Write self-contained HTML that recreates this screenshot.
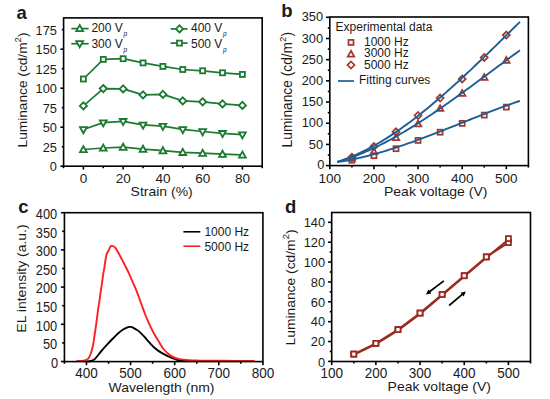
<!DOCTYPE html>
<html><head><meta charset="utf-8"><style>
html,body{margin:0;padding:0;background:#fff;}
svg{display:block;}
text{font-family:"Liberation Sans", sans-serif;fill:#1a1a1a;}
</style></head><body>
<svg width="550" height="399" viewBox="0 0 550 399">
<rect width="550" height="399" fill="#fff"/>
<text x="16.50" y="18.80" font-size="18.5" text-anchor="start" font-weight="bold"  style="">a</text>
<line x1="60.40" y1="166.20" x2="63.60" y2="166.20" stroke="#000" stroke-width="1.6" stroke-linecap="butt"/>
<text x="0" y="0" font-size="13.5" text-anchor="end" transform="translate(56.90 171.03) scale(0.95 1.0)">0</text>
<line x1="61.80" y1="146.70" x2="63.60" y2="146.70" stroke="#000" stroke-width="1.6" stroke-linecap="butt"/>
<text x="0" y="0" font-size="13.5" text-anchor="end" transform="translate(56.90 151.53) scale(0.95 1.0)">25</text>
<line x1="60.40" y1="127.20" x2="63.60" y2="127.20" stroke="#000" stroke-width="1.6" stroke-linecap="butt"/>
<text x="0" y="0" font-size="13.5" text-anchor="end" transform="translate(56.90 132.03) scale(0.95 1.0)">50</text>
<line x1="61.80" y1="107.70" x2="63.60" y2="107.70" stroke="#000" stroke-width="1.6" stroke-linecap="butt"/>
<text x="0" y="0" font-size="13.5" text-anchor="end" transform="translate(56.90 112.53) scale(0.95 1.0)">75</text>
<line x1="60.40" y1="88.20" x2="63.60" y2="88.20" stroke="#000" stroke-width="1.6" stroke-linecap="butt"/>
<text x="0" y="0" font-size="13.5" text-anchor="end" transform="translate(56.90 93.03) scale(0.95 1.0)">100</text>
<line x1="61.80" y1="68.70" x2="63.60" y2="68.70" stroke="#000" stroke-width="1.6" stroke-linecap="butt"/>
<text x="0" y="0" font-size="13.5" text-anchor="end" transform="translate(56.90 73.53) scale(0.95 1.0)">125</text>
<line x1="60.40" y1="49.20" x2="63.60" y2="49.20" stroke="#000" stroke-width="1.6" stroke-linecap="butt"/>
<text x="0" y="0" font-size="13.5" text-anchor="end" transform="translate(56.90 54.03) scale(0.95 1.0)">150</text>
<line x1="61.80" y1="29.70" x2="63.60" y2="29.70" stroke="#000" stroke-width="1.6" stroke-linecap="butt"/>
<text x="0" y="0" font-size="13.5" text-anchor="end" transform="translate(56.90 34.53) scale(0.95 1.0)">175</text>
<line x1="63.53" y1="166.20" x2="63.53" y2="168.20" stroke="#000" stroke-width="1.6" stroke-linecap="butt"/>
<line x1="83.40" y1="166.20" x2="83.40" y2="169.60" stroke="#000" stroke-width="1.6" stroke-linecap="butt"/>
<text x="0" y="0" font-size="13.5" text-anchor="middle" transform="translate(83.40 182.90) scale(1 1.0)">0</text>
<line x1="103.28" y1="166.20" x2="103.28" y2="168.20" stroke="#000" stroke-width="1.6" stroke-linecap="butt"/>
<line x1="123.15" y1="166.20" x2="123.15" y2="169.60" stroke="#000" stroke-width="1.6" stroke-linecap="butt"/>
<text x="0" y="0" font-size="13.5" text-anchor="middle" transform="translate(123.15 182.90) scale(1 1.0)">20</text>
<line x1="143.03" y1="166.20" x2="143.03" y2="168.20" stroke="#000" stroke-width="1.6" stroke-linecap="butt"/>
<line x1="162.90" y1="166.20" x2="162.90" y2="169.60" stroke="#000" stroke-width="1.6" stroke-linecap="butt"/>
<text x="0" y="0" font-size="13.5" text-anchor="middle" transform="translate(162.90 182.90) scale(1 1.0)">40</text>
<line x1="182.78" y1="166.20" x2="182.78" y2="168.20" stroke="#000" stroke-width="1.6" stroke-linecap="butt"/>
<line x1="202.65" y1="166.20" x2="202.65" y2="169.60" stroke="#000" stroke-width="1.6" stroke-linecap="butt"/>
<text x="0" y="0" font-size="13.5" text-anchor="middle" transform="translate(202.65 182.90) scale(1 1.0)">60</text>
<line x1="222.53" y1="166.20" x2="222.53" y2="168.20" stroke="#000" stroke-width="1.6" stroke-linecap="butt"/>
<line x1="242.40" y1="166.20" x2="242.40" y2="169.60" stroke="#000" stroke-width="1.6" stroke-linecap="butt"/>
<text x="0" y="0" font-size="13.5" text-anchor="middle" transform="translate(242.40 182.90) scale(1 1.0)">80</text>
<line x1="262.27" y1="166.20" x2="262.27" y2="168.20" stroke="#000" stroke-width="1.6" stroke-linecap="butt"/>
<rect x="63.60" y="17.90" width="198.60" height="148.30" fill="none" stroke="#000" stroke-width="1.6"/>
<text x="0" y="0" font-size="13.7" text-anchor="middle" transform="translate(26.60 90.00) scale(0.92 1) rotate(-90)">Luminance (cd/m<tspan font-size="0.7em" dy="-0.63em">2</tspan><tspan dy="0.44em">)</tspan></text>
<text x="0" y="0" font-size="13.2" text-anchor="middle" transform="translate(161.70 195.60) scale(1.06 1)">Strain (%)</text>
<polyline points="83.40,149.50 103.28,148.00 123.15,147.10 143.03,149.10 162.90,150.60 182.78,152.30 202.65,153.20 222.53,154.10 242.40,154.90" fill="none" stroke="#1b7a2f" stroke-width="1.7" stroke-linejoin="round" stroke-linecap="butt"/>
<path d="M83.40,146.10 L86.82,152.22 L79.98,152.22 Z" fill="#fff" stroke="#1b7a2f" stroke-width="1.8" stroke-linejoin="miter"/>
<path d="M103.28,144.60 L106.70,150.72 L99.86,150.72 Z" fill="#fff" stroke="#1b7a2f" stroke-width="1.8" stroke-linejoin="miter"/>
<path d="M123.15,143.70 L126.57,149.82 L119.73,149.82 Z" fill="#fff" stroke="#1b7a2f" stroke-width="1.8" stroke-linejoin="miter"/>
<path d="M143.03,145.70 L146.44,151.82 L139.61,151.82 Z" fill="#fff" stroke="#1b7a2f" stroke-width="1.8" stroke-linejoin="miter"/>
<path d="M162.90,147.20 L166.32,153.32 L159.48,153.32 Z" fill="#fff" stroke="#1b7a2f" stroke-width="1.8" stroke-linejoin="miter"/>
<path d="M182.78,148.90 L186.19,155.02 L179.36,155.02 Z" fill="#fff" stroke="#1b7a2f" stroke-width="1.8" stroke-linejoin="miter"/>
<path d="M202.65,149.80 L206.07,155.92 L199.23,155.92 Z" fill="#fff" stroke="#1b7a2f" stroke-width="1.8" stroke-linejoin="miter"/>
<path d="M222.53,150.70 L225.94,156.82 L219.11,156.82 Z" fill="#fff" stroke="#1b7a2f" stroke-width="1.8" stroke-linejoin="miter"/>
<path d="M242.40,151.50 L245.82,157.62 L238.98,157.62 Z" fill="#fff" stroke="#1b7a2f" stroke-width="1.8" stroke-linejoin="miter"/>
<polyline points="83.40,129.50 103.28,122.60 123.15,121.30 143.03,124.90 162.90,126.10 182.78,129.40 202.65,131.50 222.53,133.30 242.40,134.60" fill="none" stroke="#1b7a2f" stroke-width="1.7" stroke-linejoin="round" stroke-linecap="butt"/>
<path d="M83.40,133.30 L86.82,127.18 L79.98,127.18 Z" fill="#fff" stroke="#1b7a2f" stroke-width="1.8" stroke-linejoin="miter"/>
<path d="M103.28,126.40 L106.70,120.28 L99.86,120.28 Z" fill="#fff" stroke="#1b7a2f" stroke-width="1.8" stroke-linejoin="miter"/>
<path d="M123.15,125.10 L126.57,118.98 L119.73,118.98 Z" fill="#fff" stroke="#1b7a2f" stroke-width="1.8" stroke-linejoin="miter"/>
<path d="M143.03,128.70 L146.44,122.58 L139.61,122.58 Z" fill="#fff" stroke="#1b7a2f" stroke-width="1.8" stroke-linejoin="miter"/>
<path d="M162.90,129.90 L166.32,123.78 L159.48,123.78 Z" fill="#fff" stroke="#1b7a2f" stroke-width="1.8" stroke-linejoin="miter"/>
<path d="M182.78,133.20 L186.19,127.08 L179.36,127.08 Z" fill="#fff" stroke="#1b7a2f" stroke-width="1.8" stroke-linejoin="miter"/>
<path d="M202.65,135.30 L206.07,129.18 L199.23,129.18 Z" fill="#fff" stroke="#1b7a2f" stroke-width="1.8" stroke-linejoin="miter"/>
<path d="M222.53,137.10 L225.94,130.98 L219.11,130.98 Z" fill="#fff" stroke="#1b7a2f" stroke-width="1.8" stroke-linejoin="miter"/>
<path d="M242.40,138.40 L245.82,132.28 L238.98,132.28 Z" fill="#fff" stroke="#1b7a2f" stroke-width="1.8" stroke-linejoin="miter"/>
<polyline points="83.40,105.90 103.28,88.60 123.15,88.90 143.03,94.90 162.90,94.40 182.78,100.90 202.65,101.80 222.53,103.90 242.40,105.40" fill="none" stroke="#1b7a2f" stroke-width="1.7" stroke-linejoin="round" stroke-linecap="butt"/>
<path d="M83.40,102.30 L87.00,105.90 L83.40,109.50 L79.80,105.90 Z" fill="#fff" stroke="#1b7a2f" stroke-width="1.8"/>
<path d="M103.28,85.00 L106.88,88.60 L103.28,92.20 L99.68,88.60 Z" fill="#fff" stroke="#1b7a2f" stroke-width="1.8"/>
<path d="M123.15,85.30 L126.75,88.90 L123.15,92.50 L119.55,88.90 Z" fill="#fff" stroke="#1b7a2f" stroke-width="1.8"/>
<path d="M143.03,91.30 L146.62,94.90 L143.03,98.50 L139.43,94.90 Z" fill="#fff" stroke="#1b7a2f" stroke-width="1.8"/>
<path d="M162.90,90.80 L166.50,94.40 L162.90,98.00 L159.30,94.40 Z" fill="#fff" stroke="#1b7a2f" stroke-width="1.8"/>
<path d="M182.78,97.30 L186.38,100.90 L182.78,104.50 L179.18,100.90 Z" fill="#fff" stroke="#1b7a2f" stroke-width="1.8"/>
<path d="M202.65,98.20 L206.25,101.80 L202.65,105.40 L199.05,101.80 Z" fill="#fff" stroke="#1b7a2f" stroke-width="1.8"/>
<path d="M222.53,100.30 L226.12,103.90 L222.53,107.50 L218.93,103.90 Z" fill="#fff" stroke="#1b7a2f" stroke-width="1.8"/>
<path d="M242.40,101.80 L246.00,105.40 L242.40,109.00 L238.80,105.40 Z" fill="#fff" stroke="#1b7a2f" stroke-width="1.8"/>
<polyline points="83.40,79.00 103.28,59.40 123.15,58.70 143.03,62.90 162.90,66.40 182.78,69.50 202.65,70.80 222.53,72.80 242.40,74.40" fill="none" stroke="#1b7a2f" stroke-width="1.7" stroke-linejoin="round" stroke-linecap="butt"/>
<rect x="80.90" y="76.50" width="5.00" height="5.00" fill="#fff" stroke="#1b7a2f" stroke-width="1.8"/>
<rect x="100.78" y="56.90" width="5.00" height="5.00" fill="#fff" stroke="#1b7a2f" stroke-width="1.8"/>
<rect x="120.65" y="56.20" width="5.00" height="5.00" fill="#fff" stroke="#1b7a2f" stroke-width="1.8"/>
<rect x="140.53" y="60.40" width="5.00" height="5.00" fill="#fff" stroke="#1b7a2f" stroke-width="1.8"/>
<rect x="160.40" y="63.90" width="5.00" height="5.00" fill="#fff" stroke="#1b7a2f" stroke-width="1.8"/>
<rect x="180.28" y="67.00" width="5.00" height="5.00" fill="#fff" stroke="#1b7a2f" stroke-width="1.8"/>
<rect x="200.15" y="68.30" width="5.00" height="5.00" fill="#fff" stroke="#1b7a2f" stroke-width="1.8"/>
<rect x="220.03" y="70.30" width="5.00" height="5.00" fill="#fff" stroke="#1b7a2f" stroke-width="1.8"/>
<rect x="239.90" y="71.90" width="5.00" height="5.00" fill="#fff" stroke="#1b7a2f" stroke-width="1.8"/>
<line x1="71.30" y1="28.60" x2="88.60" y2="28.60" stroke="#1b7a2f" stroke-width="1.7" stroke-linecap="butt"/>
<path d="M79.70,25.00 L83.12,31.12 L76.28,31.12 Z" fill="#fff" stroke="#1b7a2f" stroke-width="1.8" stroke-linejoin="miter"/>
<text x="91.40" y="32.20" font-size="12" text-anchor="start" font-weight="normal"  style="">200 V</text>
<text x="123.40" y="36.20" font-size="6.6" text-anchor="start" font-weight="normal"  style="font-style:italic">p</text>
<line x1="71.30" y1="43.70" x2="88.60" y2="43.70" stroke="#1b7a2f" stroke-width="1.7" stroke-linecap="butt"/>
<path d="M79.70,47.30 L83.12,41.18 L76.28,41.18 Z" fill="#fff" stroke="#1b7a2f" stroke-width="1.8" stroke-linejoin="miter"/>
<text x="91.40" y="48.10" font-size="12" text-anchor="start" font-weight="normal"  style="">300 V</text>
<text x="123.40" y="52.10" font-size="6.6" text-anchor="start" font-weight="normal"  style="font-style:italic">p</text>
<line x1="170.60" y1="28.90" x2="187.60" y2="28.90" stroke="#1b7a2f" stroke-width="1.7" stroke-linecap="butt"/>
<path d="M179.50,25.30 L183.10,28.90 L179.50,32.50 L175.90,28.90 Z" fill="#fff" stroke="#1b7a2f" stroke-width="1.8"/>
<text x="191.00" y="32.20" font-size="12" text-anchor="start" font-weight="normal"  style="">400 V</text>
<text x="223.00" y="36.20" font-size="6.6" text-anchor="start" font-weight="normal"  style="font-style:italic">p</text>
<line x1="170.60" y1="43.10" x2="187.60" y2="43.10" stroke="#1b7a2f" stroke-width="1.7" stroke-linecap="butt"/>
<rect x="177.00" y="40.60" width="5.00" height="5.00" fill="#fff" stroke="#1b7a2f" stroke-width="1.8"/>
<text x="191.00" y="48.10" font-size="12" text-anchor="start" font-weight="normal"  style="">500 V</text>
<text x="223.00" y="52.10" font-size="6.6" text-anchor="start" font-weight="normal"  style="font-style:italic">p</text>
<text x="281.30" y="17.00" font-size="18.5" text-anchor="start" font-weight="bold"  style="">b</text>
<line x1="326.00" y1="165.60" x2="329.80" y2="165.60" stroke="#000" stroke-width="1.6" stroke-linecap="butt"/>
<text x="0" y="0" font-size="13.5" text-anchor="end" transform="translate(324.40 168.98) scale(0.95 1.0)">0</text>
<line x1="327.80" y1="155.01" x2="329.80" y2="155.01" stroke="#000" stroke-width="1.6" stroke-linecap="butt"/>
<line x1="326.00" y1="144.41" x2="329.80" y2="144.41" stroke="#000" stroke-width="1.6" stroke-linecap="butt"/>
<text x="0" y="0" font-size="13.5" text-anchor="end" transform="translate(323.10 148.60) scale(0.95 1.0)">50</text>
<line x1="327.80" y1="133.82" x2="329.80" y2="133.82" stroke="#000" stroke-width="1.6" stroke-linecap="butt"/>
<line x1="326.00" y1="123.23" x2="329.80" y2="123.23" stroke="#000" stroke-width="1.6" stroke-linecap="butt"/>
<text x="0" y="0" font-size="13.5" text-anchor="end" transform="translate(323.10 127.41) scale(0.95 1.0)">100</text>
<line x1="327.80" y1="112.64" x2="329.80" y2="112.64" stroke="#000" stroke-width="1.6" stroke-linecap="butt"/>
<line x1="326.00" y1="102.04" x2="329.80" y2="102.04" stroke="#000" stroke-width="1.6" stroke-linecap="butt"/>
<text x="0" y="0" font-size="13.5" text-anchor="end" transform="translate(323.10 106.23) scale(0.95 1.0)">150</text>
<line x1="327.80" y1="91.45" x2="329.80" y2="91.45" stroke="#000" stroke-width="1.6" stroke-linecap="butt"/>
<line x1="326.00" y1="80.86" x2="329.80" y2="80.86" stroke="#000" stroke-width="1.6" stroke-linecap="butt"/>
<text x="0" y="0" font-size="13.5" text-anchor="end" transform="translate(323.10 85.04) scale(0.95 1.0)">200</text>
<line x1="327.80" y1="70.27" x2="329.80" y2="70.27" stroke="#000" stroke-width="1.6" stroke-linecap="butt"/>
<line x1="326.00" y1="59.67" x2="329.80" y2="59.67" stroke="#000" stroke-width="1.6" stroke-linecap="butt"/>
<text x="0" y="0" font-size="13.5" text-anchor="end" transform="translate(323.10 63.86) scale(0.95 1.0)">250</text>
<line x1="327.80" y1="49.08" x2="329.80" y2="49.08" stroke="#000" stroke-width="1.6" stroke-linecap="butt"/>
<line x1="326.00" y1="38.49" x2="329.80" y2="38.49" stroke="#000" stroke-width="1.6" stroke-linecap="butt"/>
<text x="0" y="0" font-size="13.5" text-anchor="end" transform="translate(323.10 42.67) scale(0.95 1.0)">300</text>
<line x1="327.80" y1="27.90" x2="329.80" y2="27.90" stroke="#000" stroke-width="1.6" stroke-linecap="butt"/>
<line x1="326.00" y1="17.30" x2="329.80" y2="17.30" stroke="#000" stroke-width="1.6" stroke-linecap="butt"/>
<text x="0" y="0" font-size="13.5" text-anchor="end" transform="translate(323.10 21.49) scale(0.95 1.0)">350</text>
<line x1="329.80" y1="165.60" x2="329.80" y2="169.20" stroke="#000" stroke-width="1.6" stroke-linecap="butt"/>
<text x="0" y="0" font-size="13.5" text-anchor="middle" transform="translate(329.80 182.80) scale(1 1.0)">100</text>
<line x1="351.87" y1="165.60" x2="351.87" y2="167.60" stroke="#000" stroke-width="1.6" stroke-linecap="butt"/>
<line x1="373.93" y1="165.60" x2="373.93" y2="169.20" stroke="#000" stroke-width="1.6" stroke-linecap="butt"/>
<text x="0" y="0" font-size="13.5" text-anchor="middle" transform="translate(373.93 182.80) scale(1 1.0)">200</text>
<line x1="396.00" y1="165.60" x2="396.00" y2="167.60" stroke="#000" stroke-width="1.6" stroke-linecap="butt"/>
<line x1="418.06" y1="165.60" x2="418.06" y2="169.20" stroke="#000" stroke-width="1.6" stroke-linecap="butt"/>
<text x="0" y="0" font-size="13.5" text-anchor="middle" transform="translate(418.06 182.80) scale(1 1.0)">300</text>
<line x1="440.12" y1="165.60" x2="440.12" y2="167.60" stroke="#000" stroke-width="1.6" stroke-linecap="butt"/>
<line x1="462.19" y1="165.60" x2="462.19" y2="169.20" stroke="#000" stroke-width="1.6" stroke-linecap="butt"/>
<text x="0" y="0" font-size="13.5" text-anchor="middle" transform="translate(462.19 182.80) scale(1 1.0)">400</text>
<line x1="484.25" y1="165.60" x2="484.25" y2="167.60" stroke="#000" stroke-width="1.6" stroke-linecap="butt"/>
<line x1="506.32" y1="165.60" x2="506.32" y2="169.20" stroke="#000" stroke-width="1.6" stroke-linecap="butt"/>
<text x="0" y="0" font-size="13.5" text-anchor="middle" transform="translate(506.32 182.80) scale(1 1.0)">500</text>
<line x1="528.38" y1="165.60" x2="528.38" y2="167.60" stroke="#000" stroke-width="1.6" stroke-linecap="butt"/>
<rect x="329.80" y="17.00" width="198.60" height="148.60" fill="none" stroke="#000" stroke-width="1.6"/>
<text x="0" y="0" font-size="13.75" text-anchor="middle" transform="translate(291.90 89.70) scale(1.0 1) rotate(-90)">Luminance (cd/m<tspan font-size="0.7em" dy="-0.63em">2</tspan><tspan dy="0.44em">)</tspan></text>
<text x="0" y="0" font-size="13.2" text-anchor="middle" transform="translate(435.70 196.30) scale(1.06 1)">Peak voltage (V)</text>
<rect x="349.37" y="157.70" width="5.00" height="5.00" fill="none" stroke="#a5372b" stroke-width="1.75"/>
<rect x="371.43" y="153.20" width="5.00" height="5.00" fill="none" stroke="#a5372b" stroke-width="1.75"/>
<rect x="393.50" y="146.20" width="5.00" height="5.00" fill="none" stroke="#a5372b" stroke-width="1.75"/>
<rect x="415.56" y="137.90" width="5.00" height="5.00" fill="none" stroke="#a5372b" stroke-width="1.75"/>
<rect x="437.62" y="129.70" width="5.00" height="5.00" fill="none" stroke="#a5372b" stroke-width="1.75"/>
<rect x="459.69" y="120.90" width="5.00" height="5.00" fill="none" stroke="#a5372b" stroke-width="1.75"/>
<rect x="481.75" y="112.60" width="5.00" height="5.00" fill="none" stroke="#a5372b" stroke-width="1.75"/>
<rect x="503.82" y="104.60" width="5.00" height="5.00" fill="none" stroke="#a5372b" stroke-width="1.75"/>
<path d="M351.87,154.90 L355.10,160.68 L348.63,160.68 Z" fill="none" stroke="#a5372b" stroke-width="1.75" stroke-linejoin="miter"/>
<path d="M373.93,148.40 L377.16,154.18 L370.70,154.18 Z" fill="none" stroke="#a5372b" stroke-width="1.75" stroke-linejoin="miter"/>
<path d="M396.00,134.30 L399.23,140.08 L392.76,140.08 Z" fill="none" stroke="#a5372b" stroke-width="1.75" stroke-linejoin="miter"/>
<path d="M418.06,120.60 L421.29,126.38 L414.83,126.38 Z" fill="none" stroke="#a5372b" stroke-width="1.75" stroke-linejoin="miter"/>
<path d="M440.12,105.20 L443.36,110.98 L436.89,110.98 Z" fill="none" stroke="#a5372b" stroke-width="1.75" stroke-linejoin="miter"/>
<path d="M462.19,90.10 L465.42,95.88 L458.96,95.88 Z" fill="none" stroke="#a5372b" stroke-width="1.75" stroke-linejoin="miter"/>
<path d="M484.25,74.10 L487.49,79.88 L481.02,79.88 Z" fill="none" stroke="#a5372b" stroke-width="1.75" stroke-linejoin="miter"/>
<path d="M506.32,57.00 L509.55,62.78 L503.09,62.78 Z" fill="none" stroke="#a5372b" stroke-width="1.75" stroke-linejoin="miter"/>
<path d="M351.87,153.70 L355.37,157.20 L351.87,160.70 L348.37,157.20 Z" fill="none" stroke="#a5372b" stroke-width="1.75"/>
<path d="M373.93,143.10 L377.43,146.60 L373.93,150.10 L370.43,146.60 Z" fill="none" stroke="#a5372b" stroke-width="1.75"/>
<path d="M396.00,128.30 L399.50,131.80 L396.00,135.30 L392.50,131.80 Z" fill="none" stroke="#a5372b" stroke-width="1.75"/>
<path d="M418.06,112.00 L421.56,115.50 L418.06,119.00 L414.56,115.50 Z" fill="none" stroke="#a5372b" stroke-width="1.75"/>
<path d="M440.12,94.50 L443.62,98.00 L440.12,101.50 L436.62,98.00 Z" fill="none" stroke="#a5372b" stroke-width="1.75"/>
<path d="M462.19,75.40 L465.69,78.90 L462.19,82.40 L458.69,78.90 Z" fill="none" stroke="#a5372b" stroke-width="1.75"/>
<path d="M484.25,53.90 L487.75,57.40 L484.25,60.90 L480.75,57.40 Z" fill="none" stroke="#a5372b" stroke-width="1.75"/>
<path d="M506.32,31.60 L509.82,35.10 L506.32,38.60 L502.82,35.10 Z" fill="none" stroke="#a5372b" stroke-width="1.75"/>
<polyline points="337.20,162.08 339.85,161.68 342.50,161.25 345.15,160.79 347.80,160.31 350.45,159.80 353.10,159.27 355.74,158.71 358.39,158.12 361.04,157.51 363.69,156.88 366.34,156.23 368.99,155.55 371.64,154.86 374.29,154.14 376.94,153.40 379.59,152.65 382.24,151.87 384.89,151.08 387.54,150.27 390.19,149.44 392.83,148.59 395.48,147.73 398.13,146.86 400.78,145.97 403.43,145.06 406.08,144.15 408.73,143.22 411.38,142.28 414.03,141.32 416.68,140.36 419.33,139.39 421.98,138.40 424.63,137.41 427.28,136.41 429.92,135.40 432.57,134.38 435.22,133.36 437.87,132.33 440.52,131.30 443.17,130.26 445.82,129.22 448.47,128.17 451.12,127.12 453.77,126.07 456.42,125.02 459.07,123.96 461.72,122.91 464.37,121.85 467.01,120.80 469.66,119.75 472.31,118.70 474.96,117.65 477.61,116.60 480.26,115.56 482.91,114.53 485.56,113.50 488.21,112.47 490.86,111.45 493.51,110.44 496.16,109.43 498.81,108.44 501.46,107.45 504.10,106.47 506.75,105.50 509.40,104.54 512.05,103.60 514.70,102.66 517.35,101.74 520.00,100.83" fill="none" stroke="#1c5e95" stroke-width="1.9" stroke-linejoin="round" stroke-linecap="butt"/>
<polyline points="337.20,161.88 339.85,161.13 342.50,160.34 345.15,159.50 347.80,158.63 350.45,157.71 353.10,156.76 355.74,155.77 358.39,154.74 361.04,153.67 363.69,152.57 366.34,151.43 368.99,150.26 371.64,149.06 374.29,147.82 376.94,146.55 379.59,145.25 382.24,143.91 384.89,142.55 387.54,141.16 390.19,139.74 392.83,138.29 395.48,136.81 398.13,135.31 400.78,133.78 403.43,132.22 406.08,130.65 408.73,129.04 411.38,127.42 414.03,125.77 416.68,124.11 419.33,122.42 421.98,120.71 424.63,118.98 427.28,117.24 429.92,115.47 432.57,113.69 435.22,111.90 437.87,110.09 440.52,108.26 443.17,106.42 445.82,104.57 448.47,102.70 451.12,100.82 453.77,98.93 456.42,97.03 459.07,95.12 461.72,93.21 464.37,91.28 467.01,89.35 469.66,87.41 472.31,85.46 474.96,83.51 477.61,81.56 480.26,79.60 482.91,77.64 485.56,75.67 488.21,73.71 490.86,71.74 493.51,69.78 496.16,67.81 498.81,65.85 501.46,63.89 504.10,61.93 506.75,59.97 509.40,58.02 512.05,56.08 514.70,54.14 517.35,52.20 520.00,50.28" fill="none" stroke="#1c5e95" stroke-width="1.9" stroke-linejoin="round" stroke-linecap="butt"/>
<polyline points="337.20,161.89 339.85,161.04 342.50,160.14 345.15,159.19 347.80,158.19 350.45,157.13 353.10,156.03 355.74,154.88 358.39,153.68 361.04,152.44 363.69,151.15 366.34,149.81 368.99,148.43 371.64,147.01 374.29,145.54 376.94,144.03 379.59,142.48 382.24,140.89 384.89,139.26 387.54,137.59 390.19,135.89 392.83,134.14 395.48,132.36 398.13,130.54 400.78,128.69 403.43,126.81 406.08,124.89 408.73,122.93 411.38,120.95 414.03,118.93 416.68,116.89 419.33,114.81 421.98,112.71 424.63,110.58 427.28,108.42 429.92,106.23 432.57,104.02 435.22,101.79 437.87,99.53 440.52,97.24 443.17,94.94 445.82,92.61 448.47,90.26 451.12,87.89 453.77,85.51 456.42,83.10 459.07,80.68 461.72,78.24 464.37,75.78 467.01,73.31 469.66,70.82 472.31,68.32 474.96,65.80 477.61,63.28 480.26,60.74 482.91,58.19 485.56,55.63 488.21,53.06 490.86,50.48 493.51,47.90 496.16,45.31 498.81,42.71 501.46,40.11 504.10,37.50 506.75,34.89 509.40,32.28 512.05,29.66 514.70,27.05 517.35,24.43 520.00,21.81" fill="none" stroke="#1c5e95" stroke-width="1.9" stroke-linejoin="round" stroke-linecap="butt"/>
<text x="335.60" y="30.60" font-size="12" text-anchor="start" font-weight="normal"  style="">Experimental data</text>
<rect x="348.50" y="39.90" width="5.00" height="5.00" fill="none" stroke="#a5372b" stroke-width="1.75"/>
<text x="364.00" y="45.80" font-size="12" text-anchor="start" font-weight="normal"  style="">1000 Hz</text>
<path d="M351.00,50.80 L354.23,56.58 L347.77,56.58 Z" fill="none" stroke="#a5372b" stroke-width="1.75" stroke-linejoin="miter"/>
<text x="364.00" y="57.10" font-size="12" text-anchor="start" font-weight="normal"  style="">3000 Hz</text>
<path d="M351.00,61.50 L354.50,65.00 L351.00,68.50 L347.50,65.00 Z" fill="none" stroke="#a5372b" stroke-width="1.75"/>
<text x="364.00" y="69.10" font-size="12" text-anchor="start" font-weight="normal"  style="">5000 Hz</text>
<line x1="338.00" y1="81.00" x2="354.00" y2="81.00" stroke="#1c5e95" stroke-width="1.7" stroke-linecap="butt"/>
<text x="359.00" y="84.30" font-size="12" text-anchor="start" font-weight="normal"  style="">Fitting curves</text>
<text x="18.30" y="212.50" font-size="18.5" text-anchor="start" font-weight="bold"  style="">c</text>
<line x1="60.92" y1="361.50" x2="64.42" y2="361.50" stroke="#000" stroke-width="1.6" stroke-linecap="butt"/>
<text x="0" y="0" font-size="13.5" text-anchor="end" transform="translate(58.20 368.31) scale(0.95 1.1)">0</text>
<line x1="62.12" y1="342.90" x2="64.42" y2="342.90" stroke="#000" stroke-width="1.6" stroke-linecap="butt"/>
<text x="0" y="0" font-size="13.5" text-anchor="end" transform="translate(57.20 349.11) scale(0.95 1.1)">50</text>
<line x1="60.92" y1="324.30" x2="64.42" y2="324.30" stroke="#000" stroke-width="1.6" stroke-linecap="butt"/>
<text x="0" y="0" font-size="13.5" text-anchor="end" transform="translate(57.20 330.51) scale(0.95 1.1)">100</text>
<line x1="62.12" y1="305.70" x2="64.42" y2="305.70" stroke="#000" stroke-width="1.6" stroke-linecap="butt"/>
<text x="0" y="0" font-size="13.5" text-anchor="end" transform="translate(57.20 311.91) scale(0.95 1.1)">150</text>
<line x1="60.92" y1="287.10" x2="64.42" y2="287.10" stroke="#000" stroke-width="1.6" stroke-linecap="butt"/>
<text x="0" y="0" font-size="13.5" text-anchor="end" transform="translate(57.20 293.31) scale(0.95 1.1)">200</text>
<line x1="62.12" y1="268.50" x2="64.42" y2="268.50" stroke="#000" stroke-width="1.6" stroke-linecap="butt"/>
<text x="0" y="0" font-size="13.5" text-anchor="end" transform="translate(57.20 274.71) scale(0.95 1.1)">250</text>
<line x1="60.92" y1="249.90" x2="64.42" y2="249.90" stroke="#000" stroke-width="1.6" stroke-linecap="butt"/>
<text x="0" y="0" font-size="13.5" text-anchor="end" transform="translate(57.20 256.11) scale(0.95 1.1)">300</text>
<line x1="62.12" y1="231.30" x2="64.42" y2="231.30" stroke="#000" stroke-width="1.6" stroke-linecap="butt"/>
<text x="0" y="0" font-size="13.5" text-anchor="end" transform="translate(57.20 237.51) scale(0.95 1.1)">350</text>
<line x1="60.92" y1="212.70" x2="64.42" y2="212.70" stroke="#000" stroke-width="1.6" stroke-linecap="butt"/>
<text x="0" y="0" font-size="13.5" text-anchor="end" transform="translate(57.20 218.91) scale(0.95 1.1)">400</text>
<line x1="64.42" y1="361.60" x2="64.42" y2="363.80" stroke="#000" stroke-width="1.6" stroke-linecap="butt"/>
<line x1="86.47" y1="361.60" x2="86.47" y2="365.20" stroke="#000" stroke-width="1.6" stroke-linecap="butt"/>
<text x="0" y="0" font-size="13.5" text-anchor="middle" transform="translate(86.47 378.00) scale(1 1.09)">400</text>
<line x1="108.53" y1="361.60" x2="108.53" y2="363.80" stroke="#000" stroke-width="1.6" stroke-linecap="butt"/>
<line x1="130.58" y1="361.60" x2="130.58" y2="365.20" stroke="#000" stroke-width="1.6" stroke-linecap="butt"/>
<text x="0" y="0" font-size="13.5" text-anchor="middle" transform="translate(130.58 378.00) scale(1 1.09)">500</text>
<line x1="152.64" y1="361.60" x2="152.64" y2="363.80" stroke="#000" stroke-width="1.6" stroke-linecap="butt"/>
<line x1="174.69" y1="361.60" x2="174.69" y2="365.20" stroke="#000" stroke-width="1.6" stroke-linecap="butt"/>
<text x="0" y="0" font-size="13.5" text-anchor="middle" transform="translate(174.69 378.00) scale(1 1.09)">600</text>
<line x1="196.75" y1="361.60" x2="196.75" y2="363.80" stroke="#000" stroke-width="1.6" stroke-linecap="butt"/>
<line x1="218.81" y1="361.60" x2="218.81" y2="365.20" stroke="#000" stroke-width="1.6" stroke-linecap="butt"/>
<text x="0" y="0" font-size="13.5" text-anchor="middle" transform="translate(218.81 378.00) scale(1 1.09)">700</text>
<line x1="240.86" y1="361.60" x2="240.86" y2="363.80" stroke="#000" stroke-width="1.6" stroke-linecap="butt"/>
<line x1="262.92" y1="361.60" x2="262.92" y2="365.20" stroke="#000" stroke-width="1.6" stroke-linecap="butt"/>
<text x="0" y="0" font-size="13.5" text-anchor="middle" transform="translate(262.92 378.00) scale(1 1.09)">800</text>
<path d="M85.50,361.30 C86.18,361.28 88.13,361.52 89.60,361.20 C91.07,360.88 92.87,360.43 94.30,359.40 C95.73,358.37 96.75,356.72 98.20,355.00 C99.65,353.28 101.37,351.00 103.00,349.10 C104.63,347.20 106.33,345.37 108.00,343.60 C109.67,341.83 111.33,340.18 113.00,338.50 C114.67,336.82 116.32,335.00 118.00,333.50 C119.68,332.00 121.42,330.55 123.10,329.50 C124.78,328.45 126.93,327.63 128.10,327.20 C129.27,326.77 129.43,326.90 130.10,326.90 C130.77,326.90 131.10,326.77 132.10,327.20 C133.10,327.63 134.95,328.80 136.10,329.50 C137.25,330.20 137.63,330.20 139.00,331.40 C140.37,332.60 142.53,334.82 144.30,336.70 C146.07,338.58 147.85,340.82 149.60,342.70 C151.35,344.58 153.07,346.47 154.80,348.00 C156.53,349.53 157.92,350.58 160.00,351.90 C162.08,353.22 164.88,354.75 167.30,355.90 C169.72,357.05 172.45,358.07 174.50,358.80 C176.55,359.53 177.02,359.92 179.60,360.30 C182.18,360.68 188.27,360.97 190.00,361.10" fill="none" stroke="#000" stroke-width="1.9"/>
<path d="M76.50,361.00 C77.10,360.98 78.70,361.02 80.10,360.90 C81.50,360.78 83.55,360.67 84.90,360.30 C86.25,359.93 87.20,359.87 88.20,358.70 C89.20,357.53 90.10,355.55 90.90,353.30 C91.70,351.05 92.43,347.90 93.00,345.20 C93.57,342.50 93.85,340.03 94.30,337.10 C94.75,334.17 95.25,330.77 95.70,327.60 C96.15,324.43 96.60,321.13 97.00,318.10 C97.40,315.07 97.70,312.20 98.10,309.40 C98.50,306.60 98.98,304.12 99.40,301.30 C99.82,298.48 100.18,295.42 100.60,292.50 C101.02,289.58 101.48,286.72 101.90,283.80 C102.32,280.88 102.68,277.72 103.10,275.00 C103.52,272.28 103.95,270.33 104.40,267.50 C104.85,264.67 105.32,260.48 105.80,258.00 C106.28,255.52 106.80,253.90 107.30,252.60 C107.80,251.30 108.35,251.10 108.80,250.20 C109.25,249.30 109.55,247.90 110.00,247.20 C110.45,246.50 110.85,246.12 111.50,246.00 C112.15,245.88 113.25,246.20 113.90,246.50 C114.55,246.80 114.85,247.08 115.40,247.80 C115.95,248.52 116.57,249.73 117.20,250.80 C117.83,251.87 118.40,252.73 119.20,254.20 C120.00,255.67 121.02,257.70 122.00,259.60 C122.98,261.50 124.08,263.60 125.10,265.60 C126.12,267.60 127.10,269.47 128.10,271.60 C129.10,273.73 130.10,276.13 131.10,278.40 C132.10,280.67 133.20,283.13 134.10,285.20 C135.00,287.27 135.68,288.75 136.50,290.80 C137.32,292.85 138.08,295.00 139.00,297.50 C139.92,300.00 140.98,303.03 142.00,305.80 C143.02,308.57 143.97,311.22 145.10,314.10 C146.23,316.98 147.43,320.08 148.80,323.10 C150.17,326.12 151.67,329.18 153.30,332.20 C154.93,335.22 156.83,338.32 158.60,341.20 C160.37,344.08 161.83,347.05 163.90,349.50 C165.97,351.95 168.62,354.35 171.00,355.90 C173.38,357.45 175.18,358.07 178.20,358.80 C181.22,359.53 185.47,360.00 189.10,360.30 C192.73,360.60 194.85,360.52 200.00,360.60 C205.15,360.68 210.90,360.75 220.00,360.80 C229.10,360.85 248.83,360.88 254.60,360.90" fill="none" stroke="#ff2020" stroke-width="1.9"/>
<rect x="64.42" y="212.70" width="198.48" height="148.90" fill="none" stroke="#000" stroke-width="1.6"/>
<text x="0" y="0" font-size="14" text-anchor="middle" transform="translate(26.10 278.50) scale(0.93 1) rotate(-90)">EL intensity (a.u.)</text>
<text x="0" y="0" font-size="13.2" text-anchor="middle" transform="translate(161.50 391.50) scale(1.06 1)">Wavelength (nm)</text>
<line x1="183.40" y1="231.80" x2="200.30" y2="231.80" stroke="#000" stroke-width="1.6" stroke-linecap="butt"/>
<text x="204.40" y="235.60" font-size="12" text-anchor="start" font-weight="normal"  style="">1000 Hz</text>
<line x1="183.40" y1="246.20" x2="200.30" y2="246.20" stroke="#ff2020" stroke-width="1.6" stroke-linecap="butt"/>
<text x="204.40" y="250.90" font-size="12" text-anchor="start" font-weight="normal"  style="">5000 Hz</text>
<text x="285.10" y="213.30" font-size="18.5" text-anchor="start" font-weight="bold"  style="">d</text>
<line x1="328.10" y1="361.40" x2="331.70" y2="361.40" stroke="#000" stroke-width="1.6" stroke-linecap="butt"/>
<text x="0" y="0" font-size="13.5" text-anchor="end" transform="translate(325.10 367.13) scale(0.95 1.0)">0</text>
<line x1="329.70" y1="351.46" x2="331.70" y2="351.46" stroke="#000" stroke-width="1.6" stroke-linecap="butt"/>
<line x1="328.10" y1="341.53" x2="331.70" y2="341.53" stroke="#000" stroke-width="1.6" stroke-linecap="butt"/>
<text x="0" y="0" font-size="13.5" text-anchor="end" transform="translate(325.10 346.36) scale(0.95 1.0)">20</text>
<line x1="329.70" y1="331.59" x2="331.70" y2="331.59" stroke="#000" stroke-width="1.6" stroke-linecap="butt"/>
<line x1="328.10" y1="321.66" x2="331.70" y2="321.66" stroke="#000" stroke-width="1.6" stroke-linecap="butt"/>
<text x="0" y="0" font-size="13.5" text-anchor="end" transform="translate(325.10 326.49) scale(0.95 1.0)">40</text>
<line x1="329.70" y1="311.72" x2="331.70" y2="311.72" stroke="#000" stroke-width="1.6" stroke-linecap="butt"/>
<line x1="328.10" y1="301.79" x2="331.70" y2="301.79" stroke="#000" stroke-width="1.6" stroke-linecap="butt"/>
<text x="0" y="0" font-size="13.5" text-anchor="end" transform="translate(325.10 306.62) scale(0.95 1.0)">60</text>
<line x1="329.70" y1="291.85" x2="331.70" y2="291.85" stroke="#000" stroke-width="1.6" stroke-linecap="butt"/>
<line x1="328.10" y1="281.92" x2="331.70" y2="281.92" stroke="#000" stroke-width="1.6" stroke-linecap="butt"/>
<text x="0" y="0" font-size="13.5" text-anchor="end" transform="translate(325.10 286.75) scale(0.95 1.0)">80</text>
<line x1="329.70" y1="271.98" x2="331.70" y2="271.98" stroke="#000" stroke-width="1.6" stroke-linecap="butt"/>
<line x1="328.10" y1="262.05" x2="331.70" y2="262.05" stroke="#000" stroke-width="1.6" stroke-linecap="butt"/>
<text x="0" y="0" font-size="13.5" text-anchor="end" transform="translate(325.10 266.88) scale(0.95 1.0)">100</text>
<line x1="329.70" y1="252.11" x2="331.70" y2="252.11" stroke="#000" stroke-width="1.6" stroke-linecap="butt"/>
<line x1="328.10" y1="242.18" x2="331.70" y2="242.18" stroke="#000" stroke-width="1.6" stroke-linecap="butt"/>
<text x="0" y="0" font-size="13.5" text-anchor="end" transform="translate(325.10 247.01) scale(0.95 1.0)">120</text>
<line x1="329.70" y1="232.24" x2="331.70" y2="232.24" stroke="#000" stroke-width="1.6" stroke-linecap="butt"/>
<line x1="328.10" y1="222.31" x2="331.70" y2="222.31" stroke="#000" stroke-width="1.6" stroke-linecap="butt"/>
<text x="0" y="0" font-size="13.5" text-anchor="end" transform="translate(325.10 227.14) scale(0.95 1.0)">140</text>
<line x1="331.70" y1="361.50" x2="331.70" y2="365.10" stroke="#000" stroke-width="1.6" stroke-linecap="butt"/>
<text x="0" y="0" font-size="13.5" text-anchor="middle" transform="translate(331.70 378.00) scale(1 1.09)">100</text>
<line x1="353.79" y1="361.50" x2="353.79" y2="363.50" stroke="#000" stroke-width="1.6" stroke-linecap="butt"/>
<line x1="375.88" y1="361.50" x2="375.88" y2="365.10" stroke="#000" stroke-width="1.6" stroke-linecap="butt"/>
<text x="0" y="0" font-size="13.5" text-anchor="middle" transform="translate(375.88 378.00) scale(1 1.09)">200</text>
<line x1="397.97" y1="361.50" x2="397.97" y2="363.50" stroke="#000" stroke-width="1.6" stroke-linecap="butt"/>
<line x1="420.06" y1="361.50" x2="420.06" y2="365.10" stroke="#000" stroke-width="1.6" stroke-linecap="butt"/>
<text x="0" y="0" font-size="13.5" text-anchor="middle" transform="translate(420.06 378.00) scale(1 1.09)">300</text>
<line x1="442.15" y1="361.50" x2="442.15" y2="363.50" stroke="#000" stroke-width="1.6" stroke-linecap="butt"/>
<line x1="464.24" y1="361.50" x2="464.24" y2="365.10" stroke="#000" stroke-width="1.6" stroke-linecap="butt"/>
<text x="0" y="0" font-size="13.5" text-anchor="middle" transform="translate(464.24 378.00) scale(1 1.09)">400</text>
<line x1="486.33" y1="361.50" x2="486.33" y2="363.50" stroke="#000" stroke-width="1.6" stroke-linecap="butt"/>
<line x1="508.42" y1="361.50" x2="508.42" y2="365.10" stroke="#000" stroke-width="1.6" stroke-linecap="butt"/>
<text x="0" y="0" font-size="13.5" text-anchor="middle" transform="translate(508.42 378.00) scale(1 1.09)">500</text>
<line x1="530.51" y1="361.50" x2="530.51" y2="363.50" stroke="#000" stroke-width="1.6" stroke-linecap="butt"/>
<rect x="331.70" y="212.50" width="198.80" height="149.00" fill="none" stroke="#000" stroke-width="1.6"/>
<text x="0" y="0" font-size="13.85" text-anchor="middle" transform="translate(294.50 287.40) scale(0.97 1) rotate(-90)">Luminance (cd/m<tspan font-size="0.7em" dy="-0.63em">2</tspan><tspan dy="0.44em">)</tspan></text>
<text x="0" y="0" font-size="13.2" text-anchor="middle" transform="translate(439.30 390.90) scale(1.06 1)">Peak voltage (V)</text>
<polyline points="353.79,354.10 375.88,343.40 397.97,329.60 420.06,313.10 442.15,294.50 464.24,275.70 486.33,256.90 508.42,242.60" fill="none" stroke="#9a2b20" stroke-width="2.0" stroke-linejoin="round" stroke-linecap="butt"/>
<polyline points="353.79,354.90 375.88,344.20 397.97,330.40 420.06,313.90 442.15,295.30 464.24,276.50 486.33,257.70 508.42,239.40" fill="none" stroke="#9a2b20" stroke-width="2.0" stroke-linejoin="round" stroke-linecap="butt"/>
<rect x="351.29" y="351.60" width="5.00" height="5.00" fill="#fff" stroke="#9a2b20" stroke-width="1.8"/>
<rect x="373.38" y="340.90" width="5.00" height="5.00" fill="#fff" stroke="#9a2b20" stroke-width="1.8"/>
<rect x="395.47" y="327.10" width="5.00" height="5.00" fill="#fff" stroke="#9a2b20" stroke-width="1.8"/>
<rect x="417.56" y="310.60" width="5.00" height="5.00" fill="#fff" stroke="#9a2b20" stroke-width="1.8"/>
<rect x="439.65" y="292.00" width="5.00" height="5.00" fill="#fff" stroke="#9a2b20" stroke-width="1.8"/>
<rect x="461.74" y="273.20" width="5.00" height="5.00" fill="#fff" stroke="#9a2b20" stroke-width="1.8"/>
<rect x="483.83" y="254.40" width="5.00" height="5.00" fill="#fff" stroke="#9a2b20" stroke-width="1.8"/>
<rect x="505.92" y="240.10" width="5.00" height="5.00" fill="#fff" stroke="#9a2b20" stroke-width="1.8"/>
<rect x="351.29" y="351.60" width="5.00" height="5.00" fill="#fff" stroke="#9a2b20" stroke-width="1.8"/>
<rect x="373.38" y="340.90" width="5.00" height="5.00" fill="#fff" stroke="#9a2b20" stroke-width="1.8"/>
<rect x="395.47" y="327.10" width="5.00" height="5.00" fill="#fff" stroke="#9a2b20" stroke-width="1.8"/>
<rect x="417.56" y="310.60" width="5.00" height="5.00" fill="#fff" stroke="#9a2b20" stroke-width="1.8"/>
<rect x="439.65" y="292.00" width="5.00" height="5.00" fill="#fff" stroke="#9a2b20" stroke-width="1.8"/>
<rect x="461.74" y="273.20" width="5.00" height="5.00" fill="#fff" stroke="#9a2b20" stroke-width="1.8"/>
<rect x="483.83" y="254.40" width="5.00" height="5.00" fill="#fff" stroke="#9a2b20" stroke-width="1.8"/>
<rect x="505.92" y="236.10" width="5.00" height="5.00" fill="#fff" stroke="#9a2b20" stroke-width="1.8"/>
<line x1="443.80" y1="280.90" x2="427.49" y2="293.29" stroke="#000" stroke-width="1.7" stroke-linecap="butt"/>
<path d="M425.90,294.50 L428.43,289.56 L431.33,293.39 Z" fill="#000"/>
<line x1="449.10" y1="305.50" x2="464.37" y2="292.69" stroke="#000" stroke-width="1.7" stroke-linecap="butt"/>
<path d="M465.90,291.40 L463.61,296.45 L460.53,292.78 Z" fill="#000"/>
</svg>
</body></html>
